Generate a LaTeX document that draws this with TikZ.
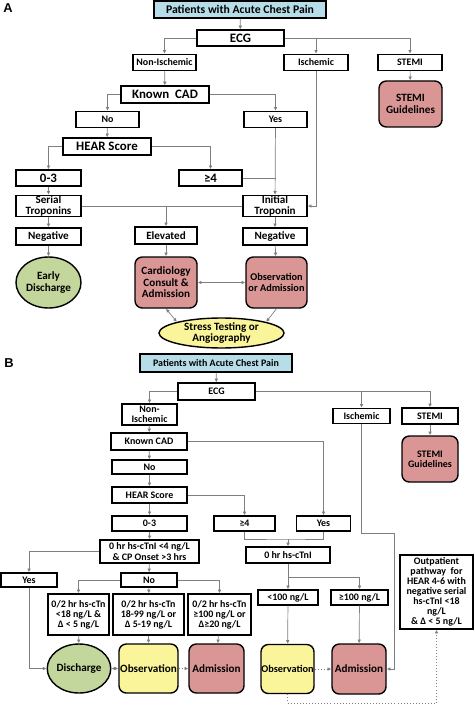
\documentclass[tikz,border=0pt]{standalone}
\usepackage{fontspec}
\setmainfont{Carlito}
\setsansfont{Liberation Sans}
\usetikzlibrary{arrows.meta,shapes.geometric}

\definecolor{painblue}{HTML}{B7DDE8}
\definecolor{alarmred}{HTML}{D99694}
\definecolor{safegreen}{HTML}{C3D69B}
\definecolor{watchyellow}{HTML}{FAF59A}
\definecolor{linkgray}{HTML}{7F7F7F}

\begin{document}
\begin{tikzpicture}[x=0.03cm, y=-0.03cm,
	every node/.style={font=\bfseries\fontsize{9.5}{9.8}\selectfont, align=center, inner sep=0pt},
	>={Latex[length=1.1mm,width=1.1mm]},
	sz/.style 2 args={minimum width=#1*0.03cm, minimum height=#2*0.03cm},
	box/.style={draw, line width=1.2pt, fill=white},
	start/.style={box, fill=painblue},
	outcome/.style={box, rounded corners=2.2mm},
	oval/.style={box, ellipse},
	tag/.style={font=\bfseries\fontsize{8.5}{9}\selectfont},
	head/.style={font=\bfseries\fontsize{11}{11}\selectfont},
	small/.style={font=\bfseries\fontsize{8.5}{8.6}\selectfont},
	panel/.style={font=\sffamily\bfseries\fontsize{11}{11}\selectfont},
	link/.style={draw=linkgray, line width=0.6pt}]
	\useasboundingbox (0,0) rectangle (474,705);

	\node[panel] (labA) at (8,8) {A};
	\node[start, font=\bfseries\fontsize{10}{10}\selectfont, sz={172}{17}] (patA) at (240,9.5) {Patients with Acute Chest Pain};
	\node[box, head, sz={87}{16}] (ecgA) at (240.5,38) {ECG};
	\node[box, tag, sz={63}{16}] (nonA) at (164.5,62.5) {Non-Ischemic};
	\node[box, tag, sz={64}{16}] (ischA) at (316,62.5) {Ischemic};
	\node[box, tag, sz={64}{16}] (stemiA) at (410,62.5) {STEMI};
	\node[outcome, fill=alarmred, sz={63}{46}] (guideA) at (410.5,104) {STEMI\\Guidelines};
	\node[box, head, sz={88}{17}] (cadA) at (165,94.5) {Known\ \ CAD};
	\node[box, tag, sz={63}{16}] (noA) at (107.5,119.5) {No};
	\node[box, tag, sz={63}{16}] (yesA) at (275.5,119.5) {Yes};
	\node[box, head, sz={88}{17}] (hearA) at (107,146.5) {HEAR Score};
	\node[box, head, sz={65}{16}] (lowA) at (48.5,178) {0-3};
	\node[box, head, sz={63}{16}] (highA) at (210.5,178) {≥4};
	\node[box, sz={65}{20}] (serA) at (48.5,206) {Serial\\Troponins};
	\node[box, sz={64}{20}] (initA) at (275,206) {Initial\\Troponin};
	\node[box, sz={65}{17}] (negLA) at (48.5,236.5) {Negative};
	\node[box, sz={62}{17}] (elevA) at (166,235.5) {Elevated};
	\node[box, sz={64}{17}] (negRA) at (275,236.5) {Negative};
	\node[oval, fill=safegreen, sz={65}{51}] (earlyA) at (48.5,282.5) {Early\\Discharge};
	\node[outcome, fill=alarmred, sz={62}{51}] (cardA) at (166,282.5) {Cardiology\\Consult \&\\Admission};
	\node[outcome, fill=alarmred, font=\bfseries\fontsize{8.8}{9.8}\selectfont, sz={61}{51}] (obsA) at (276.5,282.5) {Observation\\or Admission};
	\node[oval, fill=watchyellow, sz={125}{28}] (stressA) at (221.5,333) {Stress Testing or\\Angiography};

	\draw[link,->] (patA) -- (ecgA);
	\draw[link,->] (ecgA.west) -| (nonA);
	\draw[link,->] (ecgA.east) -| (ischA);
	\draw[link,->] (ecgA.east) -| (stemiA);
	\draw[link,->] (stemiA) -- (guideA);
	\draw[link,->] (nonA) -- (cadA);
	\draw[link,->] (cadA.west) -| (noA);
	\draw[link,->] (cadA.east) -| (yesA);
	\draw[link,->] (noA) -- (hearA);
	\draw[link,->] (hearA.west) -| (lowA);
	\draw[link,->] (hearA.east) -| (highA);
	\draw[link,->] (lowA) -- (serA);
	\draw[link,->] (yesA) -- (initA);
	\draw[link] (highA) -- (highA -| yesA);
	\draw[link,->] (ischA) |- (initA);
	\draw[link] (serA) -- (initA);
	\draw[link,->] (elevA |- serA) -- (elevA);
	\draw[link,->] (serA) -- (negLA);
	\draw[link,->] (initA) -- (negRA);
	\draw[link,->] (negLA) -- (earlyA);
	\draw[link,->] (elevA) -- (cardA);
	\draw[link,->] (negRA) -- (obsA);
	\draw[link,<->] (cardA) -- (obsA);
	\draw[link,<->] (cardA.south) -- (stressA.north west);
	\draw[link,->] (obsA.south) -- (stressA.north east);

	\node[panel] (labB) at (9,363) {B};
	\node[start, small, sz={152}{18}] (patB) at (216,363) {Patients with Acute Chest Pain};
	\node[box, small, sz={77}{17}] (ecgB) at (216.5,391.5) {ECG};
	\node[box, small, sz={55}{21}] (nonB) at (149.5,414.5) {Non-\\Ischemic};
	\node[box, small, sz={57}{15}] (ischB) at (361.5,416) {Ischemic};
	\node[box, small, sz={56}{16}] (stemiB) at (430,416) {STEMI};
	\node[outcome, small, fill=alarmred, sz={56}{46}] (guideB) at (430,459) {STEMI\\Guidelines};
	\node[box, small, sz={76}{17}] (cadB) at (149,441.5) {Known CAD};
	\node[box, small, sz={75}{14}] (noB) at (149.5,467) {No};
	\node[box, small, sz={75}{16}] (hearB) at (149.5,495) {HEAR Score};
	\node[box, small, sz={75}{15}] (lowB) at (149.5,523.5) {0-3};
	\node[box, small, sz={61}{15}] (highB) at (244.5,523.5) {≥4};
	\node[box, small, sz={54}{15}] (yesB) at (323.5,523.5) {Yes};
	\node[box, small, sz={99}{23}] (triageB) at (149.5,551.5) {0 hr hs-cTnI <4 ng/L\\\& CP Onset >3 hrs};
	\node[box, small, sz={84}{16}] (zeroB) at (288,555) {0 hr hs-cTnI};
	\node[box, small, sz={56}{14}] (yesLB) at (29,580) {Yes};
	\node[box, small, sz={56}{14}] (noMB) at (149,580) {No};
	\node[box, small, sz={61}{41}] (lowTB) at (78.5,614.5) {0/2 hr hs-cTn\\<18 ng/L \&\\Δ < 5 ng/L};
	\node[box, small, sz={71}{41}] (midTB) at (148.5,614.5) {0/2 hr hs-cTn\\18-99 ng/L or\\Δ 5-19 ng/L};
	\node[box, small, sz={63}{41}] (highTB) at (219.5,614.5) {0/2 hr hs-cTn\\≥100 ng/L or\\Δ≥20 ng/L};
	\node[box, small, sz={60}{15}] (ltB) at (288,597.5) {<100 ng/L};
	\node[box, small, sz={57}{15}] (geB) at (359.5,597.5) {≥100 ng/L};
	\node[box, small, sz={73}{74}] (outB) at (436.5,592) {Outpatient\\pathway\ \ for\\HEAR 4-6 with\\negative serial\\hs-cTnI <18\\ng/L\\\& Δ < 5 ng/L};
	\node[oval, fill=safegreen, sz={62}{49}] (disB) at (79,668.5) {Discharge};
	\node[outcome, fill=watchyellow, sz={59}{49}] (obsB) at (148.5,668.5) {Observation};
	\node[outcome, fill=alarmred, sz={55}{49}] (admB) at (216.5,668.5) {Admission};
	\node[outcome, fill=watchyellow, font=\bfseries\fontsize{8.8}{9}\selectfont, sz={53}{49}] (obsRB) at (287.5,669) {Observation};
	\node[outcome, fill=alarmred, sz={54}{50}] (admRB) at (359,669) {Admission};
	\coordinate (joinB) at (288,539);
	\coordinate (splitB) at (288,577);
	\coordinate (bendB) at (394,533);
	\coordinate (footB) at (436.5,703);

	\draw[link,->] (patB) -- (ecgB);
	\draw[link,->] (ecgB.west) -| (nonB);
	\draw[link,->] (ecgB.east) -| (ischB);
	\draw[link,->] (ecgB.east) -| (stemiB);
	\draw[link,->] (stemiB) -- (guideB);
	\draw[link,->] (nonB) -- (cadB);
	\draw[link,->] (cadB) -- (noB);
	\draw[link,->] (cadB.east) -| (yesB);
	\draw[link,->] (noB) -- (hearB);
	\draw[link,->] (hearB) -- (lowB);
	\draw[link,->] (hearB.east) -| (highB);
	\draw[link,->] (lowB) -- (triageB);
	\draw[link] (highB) |- (joinB) -| (yesB);
	\draw[link,->] (joinB) -- (zeroB);
	\draw[link,->] (triageB.west) -| (yesLB);
	\draw[link,->] (triageB) -- (noMB);
	\draw[link,->] (noMB.west) -| (lowTB);
	\draw[link,->] (noMB) -- (midTB);
	\draw[link,->] (noMB.east) -| (highTB);
	\draw[link,->] (lowTB) -- (disB);
	\draw[link,->] (midTB) -- (obsB);
	\draw[link,->] (highTB) -- (admB);
	\draw[link,->] (yesLB) |- (disB);
	\draw[link,dotted,<->] (disB) -- (obsB);
	\draw[link,dotted,->] (obsB) -- (admB);
	\draw[link,->] (zeroB) -- (ltB);
	\draw[link,->] (splitB) -| (geB);
	\draw[link,->] (ltB) -- (obsRB);
	\draw[link,->] (geB) -- (admRB);
	\draw[link,dotted,->] (obsRB) -- (admRB);
	\draw[link,->] (ischB) |- (bendB) |- (admRB);
	\draw[link,dotted,->] (obsRB) |- (footB) -- (outB);
\end{tikzpicture}
\end{document}
